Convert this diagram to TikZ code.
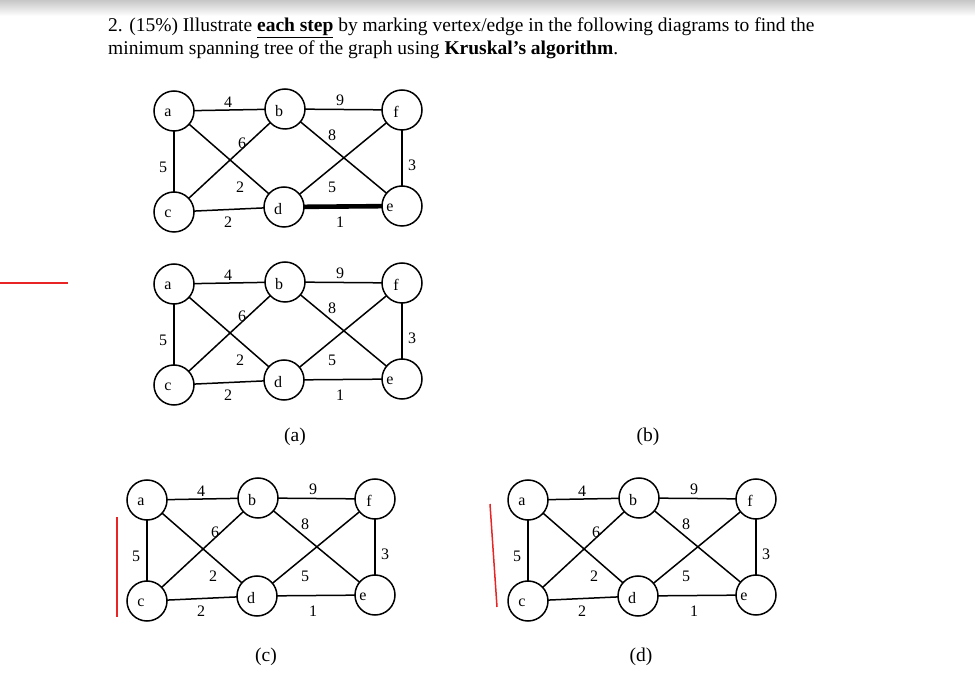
\documentclass[tikz,border=0pt]{standalone}
\usepackage{fontspec}
\setmainfont{Liberation Serif}
\usepackage{tikz}
\definecolor{markred}{RGB}{232,36,36}
\tikzstyle{edge}=[line width=1.5pt]
\tikzstyle{chosen}=[line width=4.6pt]
\tikzstyle{vertex}=[circle, fill=white, draw, line width=1.5pt,
                    minimum size=40pt,
                    inner sep=0pt, outer sep=0pt]
\tikzstyle{letter}=[font=\fontsize{16}{18}\selectfont, xshift=-6pt, yshift=-2pt]
\tikzstyle{weight}=[font=\fontsize{16}{18}\selectfont, inner sep=0pt]
\tikzstyle{caption}=[font=\fontsize{19.5}{23}\selectfont, inner sep=0pt]
\tikzstyle{redmark}=[draw=markred, line width=1.5pt]

\begin{document}
\begin{tikzpicture}[x=1pt, y=-1pt]
     \useasboundingbox (0,0) rectangle (975,692);
     \shade [top color=black!22, bottom color=white] (0,0) rectangle (975,16);

     \node (title1) at (108,32) [caption, anchor=base west]
       {2. (15\%) Illustrate \underline{\textbf{each step}} by marking vertex/edge in the following diagrams to find the};
     \node (title2) at (108,55) [caption, anchor=base west]
       {minimum spanning tree of the graph using \textbf{Kruskal’s algorithm}.};

     \foreach \g/\x/\y in {p/174/111, q/174/284, r/147/500, s/528/500}{
       \begin{scope}[shift={(\x,\y)}]
         \node (\g-a) at (0,0)     [vertex, label={[letter]center:a}]{};
         \node (\g-b) at (111,-2)  [vertex, label={[letter]center:b}]{};
         \node (\g-f) at (228,-1)  [vertex, label={[letter]center:f}]{};
         \node (\g-c) at (0,101)   [vertex, label={[letter]center:c}]{};
         \node (\g-d) at (110,96)  [vertex, label={[letter]center:d}]{};
         \node (\g-e) at (228,95)  [vertex, label={[letter, xshift=-6pt]center:e}]{};

         \foreach \u/\v in {a/b,b/f,a/c,a/d,c/b,b/e,d/f,c/d,d/e,f/e}
           \draw [edge] (\g-\u) to (\g-\v);

         \foreach \n/\w/\wx/\wy in {ab/4/54/-9, bf/9/166/-11, ac/5/-11/56, cb/6/68/32,
                                   ad/2/66/76, be/8/158/24, df/5/158/76, fe/3/238/54,
                                   cd/2/54/111, de/1/166/111}
           \node (\g-w\n) at (\wx,\wy) [weight] {\w};
       \end{scope}
     }

     % first step: the edge of weight 1
     \draw [chosen] (p-d) to (p-e);

     \node (capa) at (295,437) [caption] {(a)};
     \node (capb) at (648,437) [caption] {(b)};
     \node (capc) at (266,657) [caption] {(c)};
     \node (capd) at (641,657) [caption] {(d)};

     \draw [redmark] (0,283) -- (68,283);
     \draw [redmark] (117,517) -- (117,617);
     \draw [redmark] (490,504) -- (497,607);
\end{tikzpicture}
\end{document}
